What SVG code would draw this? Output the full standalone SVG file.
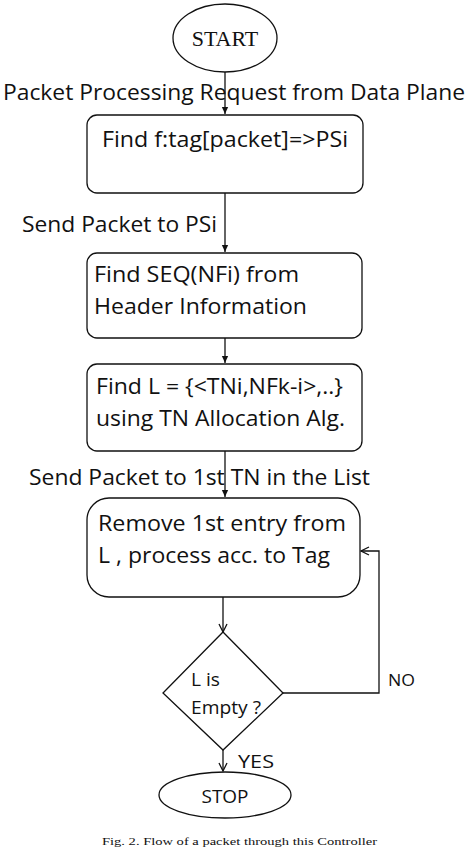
<svg xmlns="http://www.w3.org/2000/svg" width="474" height="847" viewBox="0 0 474 847">
<defs>
<style>
.s{fill:none;stroke:#111;stroke-width:1.3}
.n{fill:#fff;stroke:#111;stroke-width:1.3}
.t{font-family:"Open Sans","Liberation Sans",sans-serif;fill:#111}
.serif{font-family:"Liberation Serif","DejaVu Serif",serif;fill:#111}
</style>
<marker id="a" viewBox="0 0 10 10" refX="9" refY="5" markerWidth="8" markerHeight="8" orient="auto" markerUnits="userSpaceOnUse">
<path d="M0,1 L9,5 L0,9 Z" fill="#111"/>
</marker>
<marker id="o" viewBox="0 0 10 10" refX="9" refY="5" markerWidth="10" markerHeight="10" orient="auto" markerUnits="userSpaceOnUse">
<path d="M1,1 L9,5 L1,9" fill="none" stroke="#111" stroke-width="1.3"/>
</marker>
</defs>
<rect width="474" height="847" fill="#fff"/>
<g id="connectors">
<line class="s" x1="225" y1="72" x2="225" y2="114" marker-end="url(#a)"/>
<line class="s" x1="225" y1="193" x2="225" y2="252" marker-end="url(#a)"/>
<line class="s" x1="225" y1="338" x2="225" y2="363" marker-end="url(#a)"/>
<line class="s" x1="225" y1="451" x2="225" y2="497" marker-end="url(#a)"/>
<line class="s" x1="223" y1="597" x2="223" y2="632" marker-end="url(#o)"/>
<polyline class="s" points="283,693 379,693 379,551 361,551" marker-end="url(#o)"/>
<line class="s" x1="223" y1="750" x2="223" y2="771" marker-end="url(#o)"/>
</g>
<text class="t" x="3" y="100" font-size="21" textLength="462" lengthAdjust="spacingAndGlyphs">Packet Processing Request from Data Plane</text>
<text class="t" x="22" y="232" font-size="21" textLength="195" lengthAdjust="spacingAndGlyphs">Send Packet to PSi</text>
<text class="t" x="29" y="485" font-size="21" textLength="341" lengthAdjust="spacingAndGlyphs">Send Packet to 1st TN in the List</text>
<text class="t" x="388" y="686" font-size="17" textLength="27" lengthAdjust="spacingAndGlyphs">NO</text>
<text class="t" x="238" y="768" font-size="18" textLength="36" lengthAdjust="spacingAndGlyphs">YES</text>
<g id="start">
<ellipse class="n" cx="225" cy="38" rx="52" ry="34"/>
<text class="serif" x="225" y="46" font-size="22" text-anchor="middle">START</text>
</g>
<g id="find-ps">
<rect class="n" x="87" y="115" width="276" height="78" rx="10"/>
<text class="t" x="102" y="147" font-size="21" textLength="246" lengthAdjust="spacingAndGlyphs">Find f:tag[packet]=&gt;PSi</text>
</g>
<g id="find-seq">
<rect class="n" x="87" y="253" width="275" height="85" rx="10"/>
<text class="t" x="94" y="282" font-size="21" textLength="205" lengthAdjust="spacingAndGlyphs">Find SEQ(NFi) from</text>
<text class="t" x="94" y="314" font-size="21" textLength="213" lengthAdjust="spacingAndGlyphs">Header Information</text>
</g>
<g id="find-l">
<rect class="n" x="87" y="364" width="275" height="87" rx="10"/>
<text class="t" x="96" y="394" font-size="21" textLength="247" lengthAdjust="spacingAndGlyphs">Find L = {&lt;TNi,NFk-i&gt;,..}</text>
<text class="t" x="96" y="426" font-size="21" textLength="249" lengthAdjust="spacingAndGlyphs">using TN Allocation Alg.</text>
</g>
<g id="remove">
<rect class="n" x="87" y="498" width="273" height="99" rx="22"/>
<text class="t" x="98" y="531" font-size="21" textLength="248" lengthAdjust="spacingAndGlyphs">Remove 1st entry from</text>
<text class="t" x="98" y="563" font-size="21" textLength="232" lengthAdjust="spacingAndGlyphs">L , process acc. to Tag</text>
</g>
<g id="decision">
<polygon class="n" points="223,632 283,693 223,750 163,693"/>
<text class="t" x="191" y="686" font-size="18" textLength="29" lengthAdjust="spacingAndGlyphs">L is</text>
<text class="t" x="191" y="714" font-size="18" textLength="70" lengthAdjust="spacingAndGlyphs">Empty ?</text>
</g>
<g id="stop">
<ellipse class="n" cx="225" cy="795" rx="66" ry="23"/>
<text class="t" x="225" y="803" font-size="19" text-anchor="middle" textLength="47" lengthAdjust="spacingAndGlyphs">STOP</text>
</g>
<text class="serif" x="102" y="845" font-size="10" textLength="275" lengthAdjust="spacingAndGlyphs">Fig. 2. Flow of a packet through this Controller</text>
</svg>
